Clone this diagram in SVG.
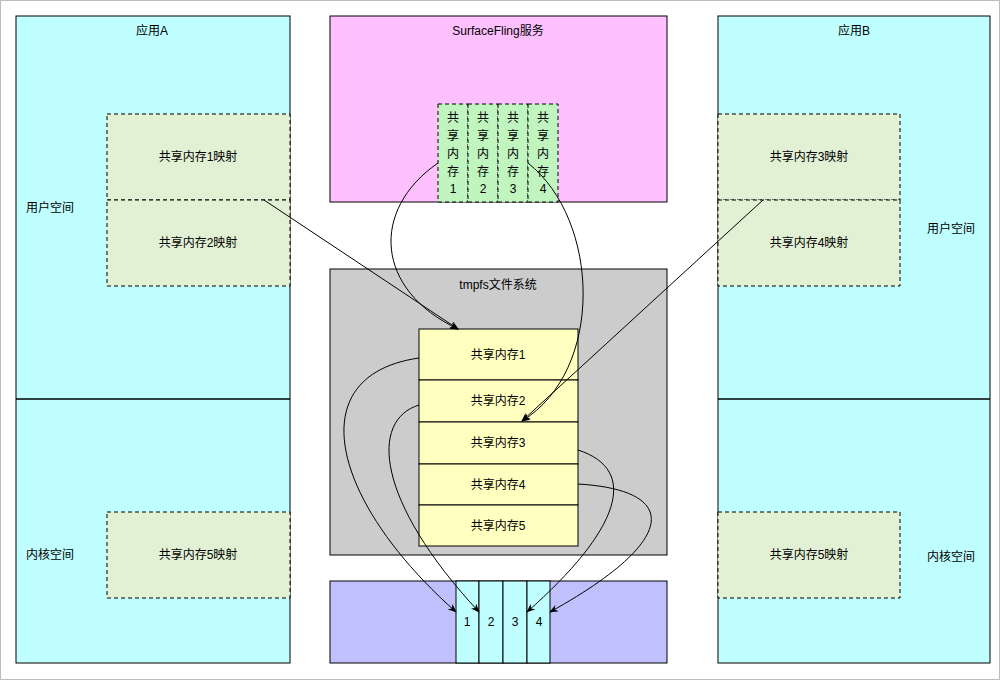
<svg xmlns="http://www.w3.org/2000/svg" width="1000" height="680" viewBox="0 0 1000 680">
<defs>
<style>
text{font-family:"Liberation Sans","Noto Sans CJK SC",sans-serif;font-size:12px;fill:#000;text-anchor:middle;dominant-baseline:central}
.b{stroke:#000;stroke-width:1}
.d{fill:#e2f1d4;stroke:#000;stroke-dasharray:4 3}
.c{fill:none;stroke:#000;stroke-width:1;marker-end:url(#a)}
</style>
<marker id="a" viewBox="0 0 10 10" refX="9" refY="5" markerWidth="9" markerHeight="9" orient="auto"><path d="M0,1 L10,5 L0,9 L3,5 Z" fill="#000"/></marker>
</defs>
<rect x="0.5" y="0.5" width="999" height="679" fill="#fff" stroke="#bbb"/>
<g id="appA">
<rect class="b" x="16" y="16" width="274" height="647" fill="#c0ffff"/>
<line x1="16" y1="399" x2="290" y2="399" stroke="#000" stroke-width="1.5"/>
<text x="152" y="31">应用A</text><text x="50" y="208">用户空间</text><text x="50" y="555">内核空间</text>
<rect class="d" x="107" y="114" width="183" height="86"/><text x="198" y="157">共享内存1映射</text>
<rect class="d" x="107" y="200" width="183" height="86"/><text x="198" y="243">共享内存2映射</text>
<rect class="d" x="107" y="512" width="183" height="86"/><text x="198" y="555">共享内存5映射</text>
</g>
<g id="appB">
<rect class="b" x="718" y="16" width="272" height="647" fill="#c0ffff"/>
<line x1="718" y1="399" x2="990" y2="399" stroke="#000" stroke-width="1.5"/>
<text x="854" y="31">应用B</text><text x="951" y="229">用户空间</text><text x="951" y="557">内核空间</text>
<rect class="d" x="718" y="114" width="182" height="86"/><text x="809" y="157">共享内存3映射</text>
<rect class="d" x="718" y="200" width="182" height="86"/><text x="809" y="243">共享内存4映射</text>
<rect class="d" x="718" y="512" width="182" height="86"/><text x="809" y="555">共享内存5映射</text>
</g>
<g id="sf">
<rect class="b" x="330" y="16" width="337" height="186" fill="#ffc0ff"/>
<text x="498" y="31">SurfaceFling服务</text>
<g fill="#c0f5c0">
<rect class="d" x="438" y="104" width="30" height="98" fill="#c0f5c0" style="fill:#c0f5c0"/>
<rect class="d" x="468" y="104" width="30" height="98" style="fill:#c0f5c0"/>
<rect class="d" x="498" y="104" width="30" height="98" style="fill:#c0f5c0"/>
<rect class="d" x="528" y="104" width="30" height="98" style="fill:#c0f5c0"/>
</g>
<text x="453" y="118">共</text><text x="453" y="136">享</text><text x="453" y="154">内</text><text x="453" y="172">存</text><text x="453" y="189">1</text>
<text x="483" y="118">共</text><text x="483" y="136">享</text><text x="483" y="154">内</text><text x="483" y="172">存</text><text x="483" y="189">2</text>
<text x="513" y="118">共</text><text x="513" y="136">享</text><text x="513" y="154">内</text><text x="513" y="172">存</text><text x="513" y="189">3</text>
<text x="543" y="118">共</text><text x="543" y="136">享</text><text x="543" y="154">内</text><text x="543" y="172">存</text><text x="543" y="189">4</text>
</g>
<g id="tmpfs">
<rect class="b" x="330" y="269" width="337" height="286" fill="#cccccc"/>
<text x="498" y="285">tmpfs文件系统</text>
<rect class="b" x="419" y="329" width="159" height="51" fill="#ffffc0"/><text x="498" y="355">共享内存1</text>
<rect class="b" x="419" y="380" width="159" height="42" fill="#ffffc0"/><text x="498" y="401">共享内存2</text>
<rect class="b" x="419" y="422" width="159" height="42" fill="#ffffc0"/><text x="498" y="443">共享内存3</text>
<rect class="b" x="419" y="464" width="159" height="41" fill="#ffffc0"/><text x="498" y="485">共享内存4</text>
<rect class="b" x="419" y="505" width="159" height="41" fill="#ffffc0"/><text x="498" y="526">共享内存5</text>
</g>
<g id="kernel">
<rect class="b" x="330" y="581" width="337" height="82" fill="#c0c0ff"/>
<rect class="b" x="456" y="581" width="23" height="82" fill="#c0ffff"/><text x="467" y="622">1</text>
<rect class="b" x="479" y="581" width="24" height="82" fill="#c0ffff"/><text x="491" y="622">2</text>
<rect class="b" x="503" y="581" width="24" height="82" fill="#c0ffff"/><text x="515" y="622">3</text>
<rect class="b" x="527" y="581" width="23" height="82" fill="#c0ffff"/><text x="539" y="622">4</text>
</g>
<g id="connectors">
<path class="c" d="M264,200 L458,329"/>
<path class="c" d="M763,200 L522,421"/>
<path class="c" d="M438,163 C370,210 375,290 458,329"/>
<path class="c" d="M528,163 C600,220 605,370 522,421"/>
<path class="c" d="M419,358 C300,375 330,500 456,612"/>
<path class="c" d="M419,405 C370,420 375,500 479,612"/>
<path class="c" d="M578,450 C640,470 620,530 527,612"/>
<path class="c" d="M578,484 C680,490 680,540 550,612"/>
</g>
</svg>
